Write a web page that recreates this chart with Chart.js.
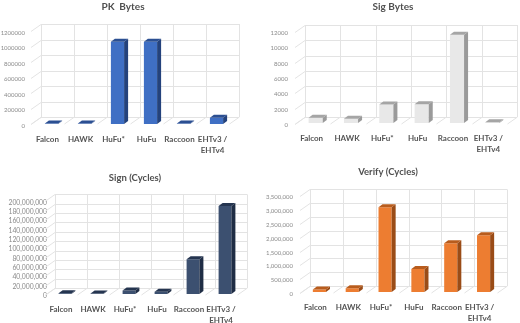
<!DOCTYPE html>
<html><head><meta charset="utf-8">
<style>
html,body{margin:0;padding:0;background:#fff;width:520px;height:323px;overflow:hidden}
canvas{position:absolute;filter:blur(.35px)}
</style>
<script src="https://cdn.jsdelivr.net/npm/chart.js@4"></script>
</head><body>
<canvas id="c1" width="246" height="160" style="left:0;top:0"></canvas>
<canvas id="c2" width="254" height="160" style="left:266px;top:0"></canvas>
<canvas id="c3" width="270" height="163" style="left:0;top:160px"></canvas>
<canvas id="c4" width="264" height="163" style="left:256px;top:160px"></canvas>
<script>
const categories = ['Falcon','HAWK','HuFu*','HuFu','Raccoon',['EHTv3 /','EHTv4']];
const pkBytes = [5000,5000,1060000,1060000,5000,80000];
const sigBytes = [680,560,2400,2450,11500,100];
const signCycles = [1500000,1000000,7500000,5000000,74500000,188000000];
const verifyCycles = [90000,140000,3070000,830000,1770000,2060000];

const wall3d = {
  id:'wall3d',
  beforeDatasetsDraw(ch){
    const {ctx,chartArea:a,scales:{x,y}} = ch, o = ch.options.plugins.wall3d;
    const L=a.left+o.wx, R=a.right+o.wx, dy=o.wy, n=categories.length;
    ctx.save(); ctx.strokeStyle='#e3e3e3'; ctx.lineWidth=1;
    const ln=(x1,y1,x2,y2)=>{ctx.beginPath();ctx.moveTo(x1,y1);ctx.lineTo(x2,y2);ctx.stroke();};
    const top=y.getPixelForValue(y.max)-dy, bot=y.getPixelForValue(0)-dy;
    y.ticks.forEach(t=>{
      const p=Math.round(y.getPixelForValue(t.value)-dy)+.5;
      ln(L,p,R,p); ln(L,p,L-10,p+7);
    });
    const step=(R-L)/n;
    for(let i=0;i<=n;i++){
      const p=Math.round(L+i*step)+.5;
      ln(p,top,p,bot); ln(p,bot,p-10,bot+7);
    }
    ctx.restore();
  },
  afterDatasetsDraw(ch){
    const {ctx} = ch, o = ch.options.plugins.wall3d;
    ch.getDatasetMeta(0).data.forEach(b=>{
      const l=b.x-b.width/2, r=b.x+b.width/2, t=b.y, B=b.base, dx=o.dx, dy=o.dy;
      ctx.fillStyle=o.side;
      ctx.beginPath();ctx.moveTo(r,t);ctx.lineTo(r+dx,t-dy);ctx.lineTo(r+dx,B-dy);ctx.lineTo(r,B);ctx.closePath();ctx.fill();
      ctx.fillStyle=o.top;
      ctx.beginPath();ctx.moveTo(l,t);ctx.lineTo(l+dx,t-dy);ctx.lineTo(r+dx,t-dy);ctx.lineTo(r,t);ctx.closePath();ctx.fill();
    });
  }
};

function draw(id,title,values,cfg){
  const commas = v => cfg.commas ? Number(v).toLocaleString('en-US') : String(v);
  new Chart(document.getElementById(id),{
    type:'bar',
    data:{labels:categories,datasets:[{data:values,backgroundColor:cfg.front,borderWidth:0,categoryPercentage:1,barPercentage:0.4}]},
    plugins:[wall3d],
    options:{
      responsive:false,animation:false,
      layout:{padding:0},
      plugins:{
        legend:{display:false},tooltip:{enabled:false},
        title:{display:true,text:title,color:'#505050',font:{family:'Lato',size:cfg.titleSize,weight:'bold',lineHeight:1.2},padding:{top:cfg.titleTop,bottom:cfg.titleBottom}},
        wall3d:{wx:cfg.wx,wy:cfg.wy,dx:cfg.dx,dy:cfg.dy,top:cfg.top,side:cfg.side}
      },
      scales:{
        x:{
          grid:{display:false,drawTicks:false},border:{display:false},
          afterFit(s){s.height=cfg.xh;},
          ticks:{color:'#555',font:{family:'Lato',size:8,weight:'bold',lineHeight:1.35},maxRotation:0,autoSkip:false,padding:cfg.xpad,labelOffset:-4}
        },
        y:{
          min:0,max:cfg.max,
          grid:{display:false,drawTicks:false},border:{display:false},
          afterFit(s){s.width=cfg.yw;},
          ticks:{stepSize:cfg.step,color:'#8a8a8a',font:{family:'Lato',size:cfg.ySize},padding:cfg.ypad,labelOffset:2,autoSkip:false,callback:commas}
        },
        gutter:{
          position:'right',display:true,min:0,max:1,
          grid:{display:false,drawTicks:false},border:{display:false},
          ticks:{display:false},
          afterFit(s){s.width=cfg.right;}
        }
      }
    }
  });
}

draw('c1','PK  Bytes',pkBytes,{max:1200000,step:200000,commas:false,front:'#3f6fc4',top:'#2b4f92',side:'#24427c',
  yw:35,xh:36,right:13,titleTop:1,titleBottom:18,titleSize:10,ySize:6,wx:6,wy:7,dx:4,dy:3,xpad:10,ypad:10});
draw('c2','Sig Bytes',sigBytes,{max:12000,step:2000,commas:false,front:'#e8e8e8',top:'#a5a5a5',side:'#9a9a9a',
  yw:32,xh:37,right:10,titleTop:1,titleBottom:18,titleSize:10,ySize:6,wx:7,wy:6,dx:4,dy:3,xpad:10,ypad:10});
draw('c3','Sign (Cycles)',signCycles,{max:200000000,step:20000000,commas:true,front:'#3c5070',top:'#253550',side:'#1f2d45',
  yw:49,xh:29,right:29,titleTop:12,titleBottom:17,titleSize:9.5,ySize:6.8,wx:6,wy:6,dx:4,dy:3,xpad:10,ypad:2});
draw('c4','Verify (Cycles)',verifyCycles,{max:3500000,step:500000,commas:true,front:'#ed7d31',top:'#b85c1d',side:'#9a4c17',
  yw:47,xh:31,right:20,titleTop:6,titleBottom:18,titleSize:9.5,ySize:6,wx:7,wy:6,dx:4,dy:3,xpad:10,ypad:10});
</script>
</body></html>
